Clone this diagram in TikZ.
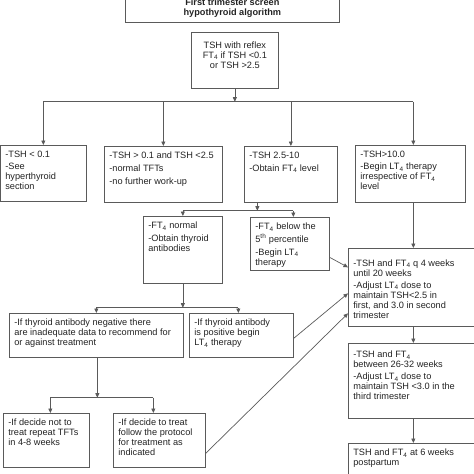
\documentclass[tikz,border=0pt]{standalone}
\usepackage{fontspec}
\newfontfamily\flowfont{Liberation Sans}
\usetikzlibrary{
    arrows.meta,
    positioning,
    calc
}
\definecolor{boxgray}{RGB}{90,90,90}
\definecolor{inkgray}{RGB}{35,35,35}
% fixed size text cell: [top gap] outer width, outer height, text
\newcommand{\boxtext}[4][0pt]{\parbox[t][\dimexpr#3pt-11pt\relax][t]{\dimexpr#2pt-10pt\relax}{\vspace*{#1}\raggedright\strut#4}}
\tikzset{
  box/.style = {draw=boxgray, line width=0.7pt, anchor=north west,
                inner xsep=5pt, inner ysep=5.5pt, text=inkgray,
                font={\flowfont\fontsize{9.2}{10}\selectfont}},
  ln/.style  = {boxgray, line width=0.7pt},
  arr/.style = {ln, -{Triangle[length=4.5pt,width=4pt]}}
}

\begin{document}
\begin{tikzpicture}[x=1pt, y=-1pt]
  \useasboundingbox (0,0) rectangle (474,474);

  % Top
  \node[box] (title) at (125,-7.5) {\boxtext{214}{29.5}{\centering\bfseries First trimester screen\\ hypothyroid algorithm}};
  \node[box] (tsh) at (191,32) {\boxtext[3.5pt]{87}{56}{\centering TSH with reflex\\ FT\textsubscript{4} if TSH <0.1\\ or TSH >2.5}};

  % First split
  \node[box] (b1) at (0,145) {\boxtext{86}{56}{-TSH < 0.1\\[2pt] -See\\ hyperthyroid\\ section}};
  \node[box] (b2) at (104,146) {\boxtext{118}{56}{-TSH > 0.1 and TSH <2.5\\[3pt] -normal TFTs\\[3pt] -no further work-up}};
  \node[box] (b3) at (244,146) {\boxtext{93}{56}{-TSH 2.5-10\\[2.5pt] -Obtain FT\textsubscript{4} level}};
  \node[box] (b4) at (355,145) {\boxtext{110}{57}{-TSH>10.0\\[2pt] -Begin LT\textsubscript{4} therapy\\ irrespective of FT\textsubscript{4}\\ level}};

  % FT4 level
  \node[box] (b5) at (143,216) {\boxtext{79}{67}{-FT\textsubscript{4} normal\\[3pt] -Obtain thyroid\\ antibodies}};
  \node[box] (b6) at (250,217) {\boxtext{79}{53}{-FT\textsubscript{4} below the\\ 5\textsuperscript{th} percentile\\[3pt] -Begin LT\textsubscript{4}\\ therapy}};

  % Antibodies
  \node[box] (b7) at (9,313) {\boxtext{174}{44}{-If thyroid antibody negative there\\ are inadequate data to recommend for\\ or against treatment}};
  \node[box] (b8) at (189,313) {\boxtext{104}{44}{-If thyroid antibody\\ is positive begin\\ LT\textsubscript{4} therapy}};
  \node[box] (b9) at (3,413) {\boxtext{86}{54}{-If decide not to\\ treat repeat TFTs\\ in 4-8 weeks}};
  \node[box] (b10) at (113,413) {\boxtext{92}{54}{-If decide to treat\\ follow the protocol\\ for treatment as\\ indicated}};

  % Treatment column
  \node[box] (r1) at (348,248) {\boxtext[5.5pt]{130}{78}{-TSH and FT\textsubscript{4} q 4 weeks\\ until 20 weeks\\[2pt] -Adjust LT\textsubscript{4} dose to\\ maintain TSH<2.5 in\\ first, and 3.0 in second\\ trimester}};
  \node[box] (r2) at (348,343) {\boxtext[2pt]{130}{75}{-TSH and FT\textsubscript{4}\\ between 26-32 weeks\\[2pt] -Adjust LT\textsubscript{4} dose to\\ maintain TSH <3.0 in the\\ third trimester}};
  \node[box] (r3) at (348,443) {\boxtext{130}{40}{TSH and FT\textsubscript{4} at 6 weeks\\ postpartum}};

  % Split points
  \coordinate (s1) at ($(tsh.south)+(0,13)$);
  \coordinate (s2) at ($(b3.south)+(-33.5,8)$);
  \coordinate (s3) at ($(b5.south)+(0,24)$);
  \coordinate (s4) at ($(b7.south)+(1,40)$);

  % TSH branches
  \draw[arr] (tsh.south) -- (s1);
  \draw[ln] (b1.north |- s1) -- ([xshift=3pt]b4.north |- s1);
  \foreach \b in {b1,b2,b3}
    \draw[arr] (\b.north |- s1) -- (\b.north);
  \draw[arr] ([xshift=3pt]b4.north |- s1) -- ([xshift=3pt]b4.north);

  % FT4 branches
  \draw[arr] (s2 |- b3.south) -- (s2);
  \draw[ln] (b5.north |- s2) -- ([xshift=3.5pt]b6.north |- s2);
  \draw[arr] (b5.north |- s2) -- (b5.north);
  \draw[arr] ([xshift=3.5pt]b6.north |- s2) -- ([xshift=3.5pt]b6.north);

  % Antibody branches
  \draw[arr] (b5.south) -- (s3);
  \draw[ln] (b7.north |- s3) -- ([xshift=-3pt]b8.north |- s3);
  \draw[arr] (b7.north |- s3) -- (b7.north);
  \draw[arr] ([xshift=-3pt]b8.north |- s3) -- ([xshift=-3pt]b8.north);

  % Decision branches
  \draw[arr] (b7.south -| s4) -- (s4);
  \draw[ln] ([xshift=4pt]b9.north |- s4) -- ([xshift=-6pt]b10.north |- s4);
  \draw[arr] ([xshift=4pt]b9.north |- s4) -- ([xshift=4pt]b9.north);
  \draw[arr] ([xshift=-6pt]b10.north |- s4) -- ([xshift=-6pt]b10.north);

  % Into treatment column
  \draw[arr] (b4.south -| r1.north) -- (r1.north);
  \draw[arr] (r1.south) -- (r2.north);
  \draw[arr] (r2.south) -- (r3.north);
  \draw[arr] ($(b6.east)+(0,13.5)$) -- ($(r1.west)+(0,-20)$);
  \draw[arr] ($(b8.east)+(0,3)$) -- ($(r1.west)+(0,6)$);
  \draw[arr] ($(b10.east)+(0,13)$) -- ($(r1.west)+(0,26)$);
\end{tikzpicture}
\end{document}
